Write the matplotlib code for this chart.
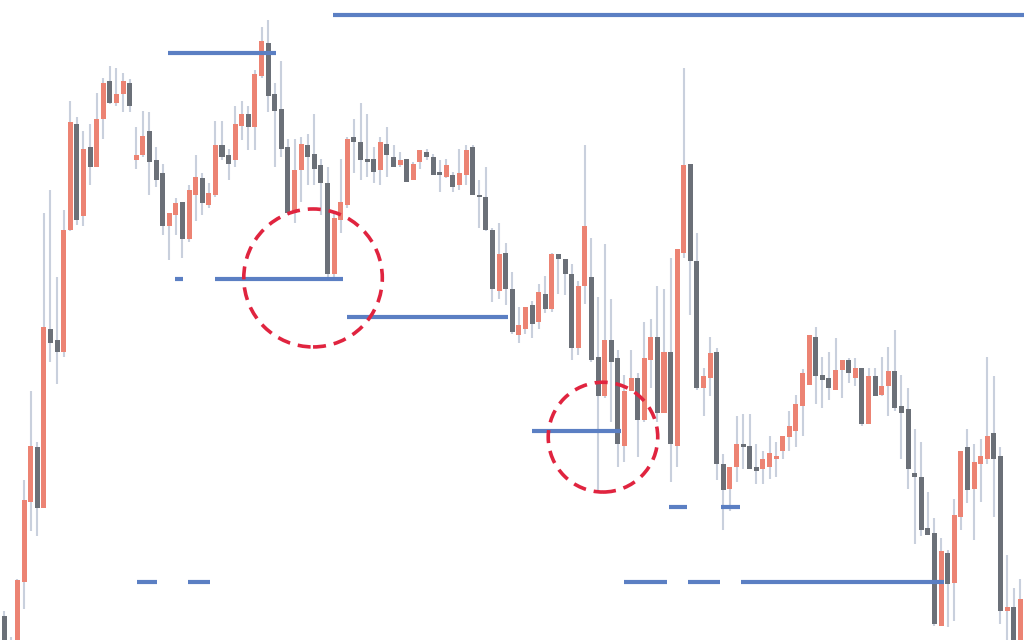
"""Candlestick chart with support/resistance levels and highlighted zones."""

import matplotlib.pyplot as plt
import numpy as np
from matplotlib.patches import Ellipse

# OHLC values (arbitrary price units)
opens = [60, -80, -42, 141, 338, 473, 323, 762, 735, 706,
         1005, 1264, 1039, 1208, 1160, 1276, 1370, 1316, 1338, 1365,
         1176, 1188, 1247, 1176, 1144, 1014, 1041, 1073, 982, 1090,
         1132, 1066, 1090, 1213, 1188, 1176, 1259, 1289, 1257, 1382,
         1463, 1338, 1301, 1208, 1046, 1152, 1213, 1191, 1164, 1120,
         897, 1029, 1066, 1232, 1220, 1178, 1178, 1152, 1215, 1183,
         1164, 1178, 1127, 1171, 1196, 1183, 1147, 1134, 1139, 1115,
         1139, 1208, 1090, 1085, 1005, 855, 948, 860, 748, 762,
         821, 779, 848, 811, 946, 933, 897, 715, 867, 889,
         693, 598, 735, 691, 476, 610, 642, 538, 686, 742,
         555, 706, 476, 948, 1166, 929, 618, 642, 706, 430,
         371, 425, 481, 476, 425, 418, 425, 444, 464, 498,
         513, 574, 625, 742, 649, 642, 613, 662, 686, 642,
         666, 528, 647, 600, 623, 659, 574, 567, 408, 400,
         275, 263, 35, 213, 140, 302, 474, 371, 430, 444,
         506, 452, 70, 81, -52]
highs = [71, 8, 150, 392, 610, 485, 1046, 1103, 889, 1054,
         1321, 1281, 1246, 1264, 1340, 1377, 1406, 1401, 1389, 1374,
         1257, 1296, 1294, 1208, 1166, 1046, 1082, 1073, 1115, 1188,
         1144, 1120, 1272, 1272, 1203, 1308, 1321, 1308, 1396, 1502,
         1519, 1365, 1419, 1227, 1227, 1232, 1240, 1289, 1178, 1159,
         1046, 1178, 1232, 1276, 1316, 1289, 1208, 1232, 1257, 1213,
         1196, 1178, 1171, 1201, 1203, 1191, 1176, 1178, 1147, 1203,
         1213, 1213, 1127, 1159, 1009, 1022, 973, 902, 816, 816,
         830, 872, 892, 948, 946, 933, 921, 879, 1213, 985,
         840, 970, 835, 711, 649, 711, 654, 779, 786, 867,
         860, 936, 958, 1401, 1166, 997, 666, 742, 715, 456,
         425, 550, 554, 554, 481, 462, 501, 486, 501, 562,
         601, 664, 747, 767, 693, 706, 740, 686, 691, 691,
         666, 666, 666, 693, 718, 760, 649, 618, 518, 486,
         363, 299, 251, 221, 346, 464, 518, 481, 493, 693,
         647, 474, 208, 128, 150]
lows = [-92, -110, -62, 77, 266, 256, 323, 680, 626, 693,
        1002, 1017, 1014, 1115, 1160, 1227, 1313, 1308, 1294, 1294,
        1154, 1183, 1090, 1110, 992, 930, 992, 936, 974, 1027,
        1041, 1058, 1085, 1176, 1127, 1159, 1225, 1201, 1201, 1377,
        1294, 1159, 1183, 1041, 1022, 1073, 1115, 1115, 1041, 890,
        890, 997, 1058, 1144, 1127, 1134, 1120, 1115, 1134, 1159,
        1159, 1122, 1127, 1154, 1176, 1139, 1098, 1132, 1098, 1103,
        1115, 1090, 1009, 1002, 828, 835, 820, 750, 728, 750,
        740, 762, 801, 804, 848, 845, 686, 698, 823, 681,
        368, 593, 533, 425, 437, 610, 449, 533, 618, 533,
        555, 388, 425, 936, 796, 613, 550, 598, 393, 270,
        316, 388, 418, 420, 383, 381, 395, 400, 444, 464,
        474, 501, 625, 579, 569, 588, 613, 593, 630, 623,
        525, 528, 598, 598, 550, 562, 444, 371, 234, 256,
        258, 35, 35, 33, 47, 270, 336, 246, 339, 432,
        302, 40, -32, -72, -72]
closes = [-72, -40, 146, 343, 475, 323, 767, 728, 706, 1005,
          1269, 1029, 1203, 1160, 1276, 1365, 1316, 1338, 1370, 1308,
          1188, 1235, 1171, 1127, 1014, 1046, 1071, 982, 1103, 1134,
          1071, 1095, 1213, 1183, 1166, 1264, 1289, 1257, 1387, 1468,
          1333, 1296, 1203, 1046, 1152, 1215, 1183, 1154, 1120, 897,
          1034, 1073, 1227, 1220, 1176, 1171, 1147, 1220, 1188, 1159,
          1176, 1122, 1166, 1201, 1183, 1139, 1139, 1164, 1110, 1144,
          1201, 1090, 1085, 1005, 860, 946, 860, 755, 772, 816,
          774, 853, 811, 946, 933, 897, 715, 867, 1014, 686,
          598, 735, 681, 481, 610, 642, 538, 691, 742, 557,
          706, 481, 958, 1164, 929, 618, 647, 703, 430, 368,
          425, 481, 474, 420, 413, 444, 457, 452, 501, 525,
          579, 654, 747, 647, 637, 618, 662, 686, 654, 666,
          528, 647, 598, 623, 659, 569, 557, 418, 400, 270,
          258, 40, 218, 138, 306, 464, 368, 437, 452, 501,
          444, 72, 81, -52, 101]

# horizontal levels: (price, start index, end index)
levels = [
    (1531, 49.8, 155.0),
    (1438, 24.8, 41.2),
    (884, 25.9, 27.1), (884, 31.9, 51.3),
    (791, 51.9, 76.4),
    (512, 80.0, 93.5),
    (325, 100.8, 103.5), (325, 108.6, 111.5),
    (143, 20.1, 23.1), (143, 27.8, 31.2), (143, 93.9, 100.4),
    (143, 103.6, 108.5), (143, 111.7, 142.4),
]

# highlighted zones: (center index, center price, width in bars, height in price)
zones = [(46.8, 887, 21.0, 338), (90.75, 497, 16.6, 269)]

UP = "#ec8373"
DOWN = "#6b7078"
WICK = "#c9d0dd"
LEVEL = "#5b7fc3"
ZONE = "#e0243f"

o = np.array(opens, dtype=float)
h = np.array(highs, dtype=float)
lo = np.array(lows, dtype=float)
c = np.array(closes, dtype=float)
x = np.arange(len(o))
up = c >= o

fig = plt.figure(figsize=(10.24, 6.4), dpi=100)
ax = fig.add_axes([0, 0, 1, 1])
ax.set_facecolor("white")

ax.vlines(x, lo, h, color=WICK, linewidth=1.5, zorder=1)
body_h = np.maximum(np.abs(c - o), 6)
body_b = np.minimum(o, c)
ax.bar(x[up], body_h[up], bottom=body_b[up], width=0.76, color=UP, zorder=2)
ax.bar(x[~up], body_h[~up], bottom=body_b[~up], width=0.76, color=DOWN, zorder=2)

for price, x0, x1 in levels:
    ax.hlines(price, x0, x1, color=LEVEL, linewidth=3.0, zorder=3)

for cx, cy, w, hgt in zones:
    ax.add_patch(Ellipse((cx, cy), w, hgt, fill=False, edgecolor=ZONE,
                         linewidth=2.6, linestyle=(0, (3.6, 2.2)), zorder=4))

ax.set_xlim(-0.652, 154.57)
ax.set_ylim(0, 1568)
ax.axis("off")

fig.savefig("out.png", dpi=100, facecolor="white")
